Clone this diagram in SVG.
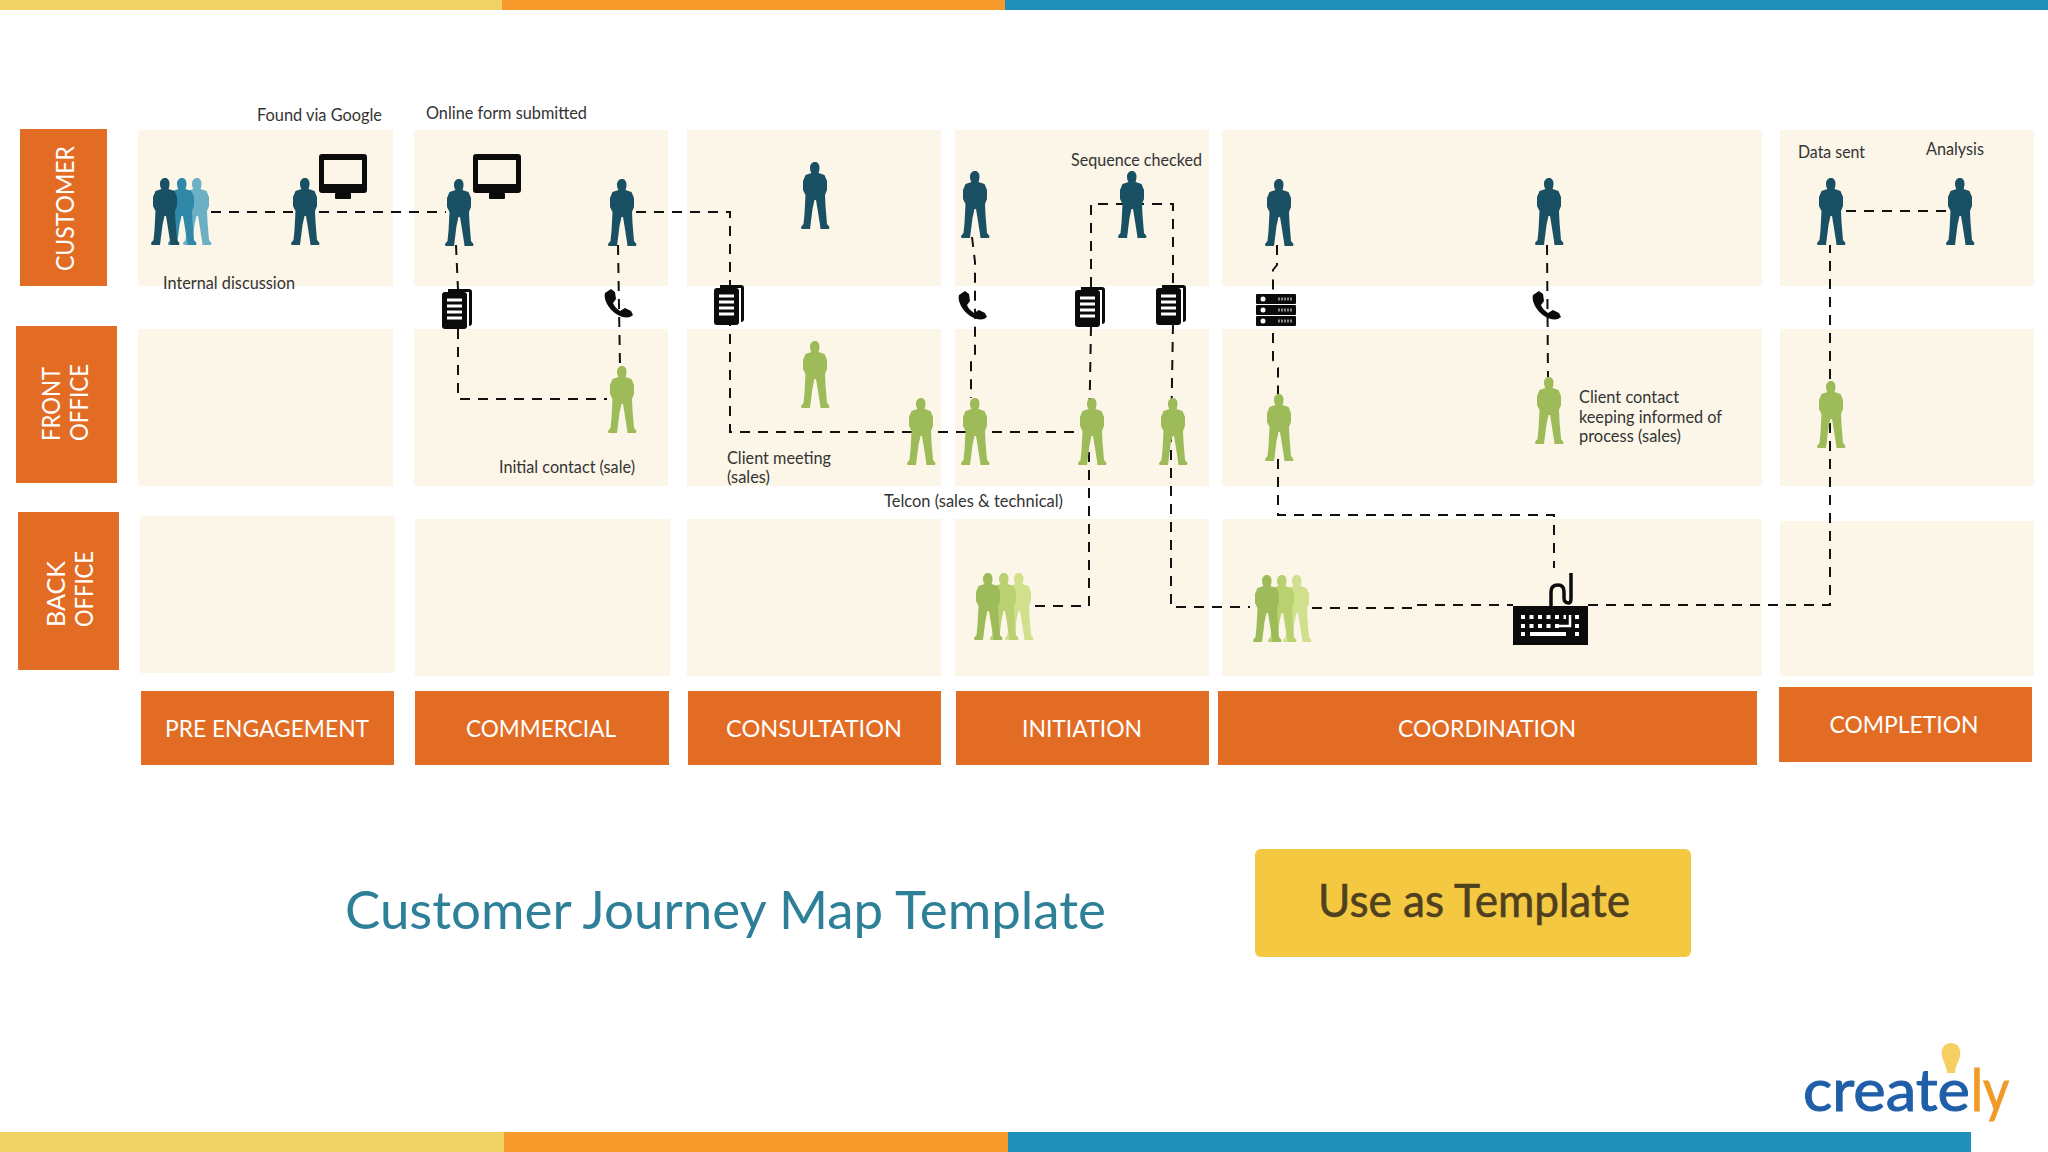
<svg xmlns="http://www.w3.org/2000/svg" xmlns:xlink="http://www.w3.org/1999/xlink" width="2048" height="1152" viewBox="0 0 2048 1152">
<style>
.panel{fill:#fbf6e8}
.or{fill:#e36c25}
.lane{font:25px Lato,sans-serif;fill:#fff}
.bar{font:24px Lato,sans-serif;fill:#fff;text-anchor:middle}
.t{font:17px Lato,sans-serif;fill:#333}
.c{fill:none;stroke:#111;stroke-width:2;stroke-dasharray:10 8}
.dk{fill:#1a5064}.md{fill:#2f88a8}.lt{fill:#6cb0c6}
.g1{fill:#9dbb58}.g2{fill:#bad172}.g3{fill:#d0e08c}
.k{fill:#0b0b0b}
</style>
<defs>
<path id="person" d="M-1 0C1.500 0 3.500 2 3.500 5.500C3.500 8 3 10 2.500 11L8.500 13L11 19L11 28L9 33L9.500 44L10.500 56L11 62L13.500 65L13 67L4.500 67L4 63L1.500 47L0 38L-1.500 38L-3.500 47L-5.500 63L-6 67L-14.500 67L-15 65L-12.500 62L-11.500 52L-10.500 33L-13 28L-13 19L-10.500 13L-4.500 11C-5.500 10 -6 8 -6 5.500C-6 2 -3.500 0 -1 0Z"/>
<g id="doc"><path class="k" d="M6 0H27Q30 0 30 3V34Q30 37 27 37V3H6Z"/><rect class="k" x="0" y="3" width="25" height="37" rx="3"/><path d="M5 11H20M5 17H20M5 23H20M5 29H20" stroke="#fff" stroke-width="3" fill="none"/></g>
<path id="phone" class="k" d="M1 4L7 0L11 3L12 10L9 14C10 17 13 20 16 22L21 19L27 22L29 26L26 28C18 30 8 24 3 15C1 11 0 7 1 4Z"/>
<g id="monitor"><rect class="k" x="0" y="0" width="48" height="39" rx="3"/><rect x="5" y="6" width="38" height="24" fill="#fbf6e8"/><rect class="k" x="16" y="39" width="16" height="6" rx="1"/></g>
</defs>
<rect width="2048" height="1152" fill="#fff"/>
<g id="bands">
<rect x="0" y="0" width="502" height="10" fill="#f0d264"/><rect x="502" y="0" width="503" height="10" fill="#f79a2c"/><rect x="1005" y="0" width="1043" height="10" fill="#1f8fba"/>
<rect x="0" y="1132" width="504" height="20" fill="#f0d264"/><rect x="504" y="1132" width="504" height="20" fill="#f79a2c"/><rect x="1008" y="1132" width="963" height="20" fill="#1f8fba"/>
</g>
<g id="panels">
<rect class="panel" x="138" y="130" width="255" height="156"/><rect class="panel" x="414" y="130" width="254" height="156"/><rect class="panel" x="687" y="130" width="254" height="156"/><rect class="panel" x="955" y="130" width="254" height="156"/><rect class="panel" x="1222" y="130" width="540" height="156"/><rect class="panel" x="1780" y="130" width="254" height="156"/>
<rect class="panel" x="138" y="329" width="255" height="157"/><rect class="panel" x="414" y="329" width="254" height="157"/><rect class="panel" x="687" y="329" width="254" height="157"/><rect class="panel" x="955" y="329" width="254" height="157"/><rect class="panel" x="1222" y="329" width="540" height="157"/><rect class="panel" x="1780" y="329" width="254" height="157"/>
<rect class="panel" x="140" y="516" width="255" height="157"/><rect class="panel" x="415" y="519" width="255" height="157"/><rect class="panel" x="687" y="519" width="254" height="157"/><rect class="panel" x="955" y="519" width="254" height="157"/><rect class="panel" x="1222" y="519" width="540" height="157"/><rect class="panel" x="1780" y="521" width="254" height="155"/>
</g>
<g id="lane-customer"><rect class="or" x="20" y="129" width="87" height="157"/><text class="lane" transform="translate(74 271) rotate(-90)" textLength="125" lengthAdjust="spacingAndGlyphs">CUSTOMER</text></g>
<g id="lane-front"><rect class="or" x="16" y="326" width="101" height="157"/><text class="lane" transform="translate(60 441) rotate(-90)" textLength="74" lengthAdjust="spacingAndGlyphs">FRONT</text><text class="lane" transform="translate(88 441) rotate(-90)" textLength="77" lengthAdjust="spacingAndGlyphs">OFFICE</text></g>
<g id="lane-back"><rect class="or" x="18" y="512" width="101" height="158"/><text class="lane" transform="translate(65 627) rotate(-90)" textLength="66" lengthAdjust="spacingAndGlyphs">BACK</text><text class="lane" transform="translate(93 627) rotate(-90)" textLength="76" lengthAdjust="spacingAndGlyphs">OFFICE</text></g>
<g id="connectors">
<path class="c" d="M211 212H446"/>
<path class="c" d="M636 212H730V432H1075"/>
<path class="c" d="M456 245L458 290M458 329V399H607"/>
<path class="c" d="M618 245L620 366"/>
<path class="c" d="M972 237L975 262V357L971 361V398"/>
<path class="c" d="M1091 287V204H1173V286"/>
<path class="c" d="M1091 326L1089 440V606H1032"/>
<path class="c" d="M1173 324L1171 440V607H1250"/>
<path class="c" d="M1312 608H1412V605H1513"/>
<path class="c" d="M1588 605H1830V245"/>
<path class="c" d="M1846 211H1950"/>
<path class="c" d="M1277 245V265L1273 270V294M1273 333V360L1278 368V394"/>
<path class="c" d="M1278 459V515H1554V568"/>
<path class="c" d="M1547 245L1548 377"/>
</g>
<g id="n-group-customer"><use href="#person" class="lt" x="198" y="178"/><use href="#person" class="md" x="183" y="178"/><use href="#person" class="dk" x="166" y="178"/></g>
<g id="n-c1"><use href="#person" class="dk" x="306" y="178"/></g>
<g id="n-c2"><use href="#person" class="dk" x="460" y="179"/></g>
<g id="n-c3"><use href="#person" class="dk" x="623" y="179"/></g>
<g id="n-c4"><use href="#person" class="dk" x="816" y="162"/></g>
<g id="n-c5"><use href="#person" class="dk" x="976" y="171"/></g>
<g id="n-c6"><use href="#person" class="dk" x="1133" y="171"/></g>
<g id="n-c7"><use href="#person" class="dk" x="1280" y="179"/></g>
<g id="n-c8"><use href="#person" class="dk" x="1550" y="178"/></g>
<g id="n-c9"><use href="#person" class="dk" x="1832" y="178"/></g>
<g id="n-c10"><use href="#person" class="dk" x="1961" y="178"/></g>
<g id="n-f1"><use href="#person" class="g1" x="623" y="366"/></g>
<g id="n-f2"><use href="#person" class="g1" x="816" y="341"/></g>
<g id="n-f3"><use href="#person" class="g1" x="922" y="398"/></g>
<g id="n-f4"><use href="#person" class="g1" x="976" y="398"/></g>
<g id="n-f5"><use href="#person" class="g1" x="1093" y="398"/></g>
<g id="n-f6"><use href="#person" class="g1" x="1174" y="398"/></g>
<g id="n-f7"><use href="#person" class="g1" x="1280" y="394"/></g>
<g id="n-f8"><use href="#person" class="g1" x="1550" y="377"/></g>
<g id="n-f9"><use href="#person" class="g1" x="1832" y="381"/></g>
<g id="n-group-back1"><use href="#person" class="g3" x="1020" y="573"/><use href="#person" class="g2" x="1005" y="573"/><use href="#person" class="g1" x="989" y="573"/></g>
<g id="n-group-back2"><use href="#person" class="g3" x="1298" y="575"/><use href="#person" class="g2" x="1283" y="575"/><use href="#person" class="g1" x="1268" y="575"/></g>
<g id="n-mon1"><use href="#monitor" x="319" y="154"/></g>
<g id="n-mon2"><use href="#monitor" x="473" y="154"/></g>
<g id="n-doc1"><use href="#doc" x="442" y="289"/></g>
<g id="n-doc2"><use href="#doc" x="714" y="285"/></g>
<g id="n-doc3"><use href="#doc" x="1075" y="287"/></g>
<g id="n-doc4"><use href="#doc" x="1156" y="285"/></g>
<g id="n-phone1"><use href="#phone" x="604" y="289"/></g>
<g id="n-phone2"><use href="#phone" x="958" y="291"/></g>
<g id="n-phone3"><use href="#phone" x="1532" y="291"/></g>
<g id="n-server"><rect class="k" x="1256" y="294" width="40" height="10" rx="1"/><rect class="k" x="1256" y="305" width="40" height="10" rx="1"/><rect class="k" x="1256" y="316" width="40" height="10" rx="1"/><circle cx="1263" cy="299" r="2.500" fill="#fff"/><circle cx="1263" cy="310" r="2.500" fill="#fff"/><circle cx="1263" cy="321" r="2.500" fill="#fff"/><path d="M1278 299H1292M1278 310H1292M1278 321H1292" stroke="#888" stroke-width="3" stroke-dasharray="2 1" fill="none"/></g>
<g id="n-keyboard"><rect class="k" x="1513" y="606" width="75" height="39"/><path d="M1551 606V592Q1551 585 1558 585Q1564 585 1564 592V598Q1564 603 1569 603Q1571 603 1571 598V573" fill="none" stroke="#0b0b0b" stroke-width="3.500"/><path d="M1521 617H1566M1521 626H1562M1575 617H1580M1575 626H1580M1521 634H1526M1575 634H1580" stroke="#fff" stroke-width="4" stroke-dasharray="4 4.500" fill="none"/><path d="M1530 634H1566" stroke="#fff" stroke-width="4" fill="none"/><path d="M1570 615V626H1558" stroke="#fff" stroke-width="2.500" fill="none"/></g>
<g id="labels">
<text class="t" x="257" y="121" textLength="125" lengthAdjust="spacingAndGlyphs">Found via Google</text>
<text class="t" x="426" y="119" textLength="161" lengthAdjust="spacingAndGlyphs">Online form submitted</text>
<text class="t" x="163" y="289" textLength="132" lengthAdjust="spacingAndGlyphs">Internal discussion</text>
<text class="t" x="499" y="473" textLength="136" lengthAdjust="spacingAndGlyphs">Initial contact (sale)</text>
<text class="t" x="1071" y="166" textLength="131" lengthAdjust="spacingAndGlyphs">Sequence checked</text>
<text class="t" x="727" y="464" textLength="104" lengthAdjust="spacingAndGlyphs">Client meeting</text>
<text class="t" x="727" y="483" textLength="43" lengthAdjust="spacingAndGlyphs">(sales)</text>
<text class="t" x="884" y="507" textLength="179" lengthAdjust="spacingAndGlyphs">Telcon (sales &amp; technical)</text>
<text class="t" x="1798" y="158" textLength="67" lengthAdjust="spacingAndGlyphs">Data sent</text>
<text class="t" x="1926" y="155" textLength="58" lengthAdjust="spacingAndGlyphs">Analysis</text>
<text class="t" x="1579" y="403" textLength="100" lengthAdjust="spacingAndGlyphs">Client contact</text>
<text class="t" x="1579" y="423" textLength="143" lengthAdjust="spacingAndGlyphs">keeping informed of</text>
<text class="t" x="1579" y="442" textLength="102" lengthAdjust="spacingAndGlyphs">process (sales)</text>
</g>
<g id="stage-pre"><rect class="or" x="141" y="691" width="253" height="74"/><text class="bar" x="267" y="737" textLength="204" lengthAdjust="spacingAndGlyphs">PRE ENGAGEMENT</text></g>
<g id="stage-commercial"><rect class="or" x="415" y="691" width="254" height="74"/><text class="bar" x="541" y="737" textLength="150" lengthAdjust="spacingAndGlyphs">COMMERCIAL</text></g>
<g id="stage-consultation"><rect class="or" x="688" y="691" width="253" height="74"/><text class="bar" x="814" y="737" textLength="176" lengthAdjust="spacingAndGlyphs">CONSULTATION</text></g>
<g id="stage-initiation"><rect class="or" x="956" y="691" width="253" height="74"/><text class="bar" x="1082" y="737" textLength="120" lengthAdjust="spacingAndGlyphs">INITIATION</text></g>
<g id="stage-coordination"><rect class="or" x="1218" y="691" width="539" height="74"/><text class="bar" x="1487" y="737" textLength="178" lengthAdjust="spacingAndGlyphs">COORDINATION</text></g>
<g id="stage-completion"><rect class="or" x="1779" y="687" width="253" height="75"/><text class="bar" x="1904" y="733" textLength="149" lengthAdjust="spacingAndGlyphs">COMPLETION</text></g>
<text id="title" x="345" y="929" font-family="Lato,sans-serif" font-size="52" fill="#2e7f98" textLength="761" lengthAdjust="spacingAndGlyphs">Customer Journey Map Template</text>
<g id="button"><rect x="1255" y="849" width="436" height="108" rx="6" fill="#f5c842"/><text x="1318" y="917" font-family="Lato,sans-serif" font-size="46" fill="#4f4020" stroke="#4f4020" stroke-width="0.600" textLength="312" lengthAdjust="spacingAndGlyphs">Use as Template</text></g>
<g id="logo"><path d="M1951 1043C1942 1043 1941 1052 1942 1056C1943 1062 1947 1066 1947 1073H1955C1955 1066 1959 1062 1960 1056C1961 1052 1960 1043 1951 1043Z" fill="#f5cf62"/><text x="1803" y="1111" font-family="Lato,sans-serif" font-size="58" fill="#1f5fa8" stroke="#1f5fa8" stroke-width="1" textLength="167" lengthAdjust="spacingAndGlyphs">create</text><text x="1971" y="1111" font-family="Lato,sans-serif" font-size="58" fill="#f09a28" stroke="#f09a28" stroke-width="1" textLength="38" lengthAdjust="spacingAndGlyphs">ly</text></g>
</svg>
